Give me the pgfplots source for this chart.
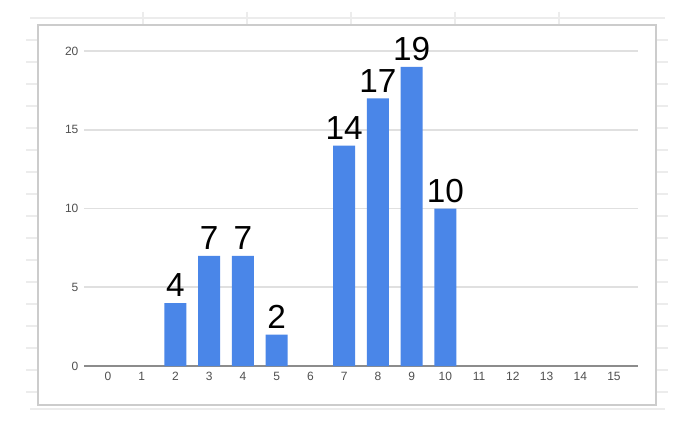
\documentclass[border=0pt]{standalone}
\usepackage{pgfplots}
\pgfplotsset{compat=1.18}
\usepackage{fontspec}
\setmainfont{Liberation Sans}
\definecolor{barblue}{RGB}{74,134,232}
\definecolor{gridgray}{RGB}{224,224,224}
\definecolor{ticktext}{RGB}{80,80,80}
\definecolor{sheetline}{RGB}{236,236,236}

\begin{document}
\begin{tikzpicture}
% page in pixel units (0.75pt per pixel), y measured from the top
\begin{scope}[x=0.75pt,y=-0.75pt,yshift=333pt]
\fill[white] (0,0) rectangle (684,444);
\useasboundingbox (0,0) rectangle (684,444);
% faint spreadsheet grid behind the card
\draw[sheetline,line width=0.8pt] (30,18) -- (665,18);
\foreach \gx in {143,247,351,455,559} \draw[sheetline,line width=0.8pt] (\gx,12) -- (\gx,24);
\foreach \gy in {40,62,84,106,128,150,172,194,216,238,260,282,304,326,348,370,392}
  {\draw[sheetline,line width=0.8pt] (26,\gy) -- (37,\gy);
   \draw[sheetline,line width=0.8pt] (657,\gy) -- (668,\gy);}
\draw[sheetline,line width=0.8pt] (30,409) -- (665,409);
% chart card
\draw[black!20,line width=1pt,fill=white] (38,25) rectangle (656,405);
\end{scope}

\begin{axis}[
  at={(63.3pt,58.5pt)}, anchor=south west,
  scale only axis,
  width=414.9pt, height=236.25pt,
  xmin=-0.7, xmax=15.7,
  ymin=0, ymax=20,
  /pgf/number format/assume math mode=true,
  axis x line=bottom, axis y line=left,
  y axis line style={draw=none},
  x axis line style={draw=black!45,line width=1.5pt,-},
  xtick={0,...,15}, ytick={0,5,10,15,20},
  major tick length=0pt,
  ymajorgrids=true,
  grid style={gridgray,line width=1.2pt},
  tick label style={font=\fontsize{9}{10}\selectfont,text=ticktext},
  xticklabel style={yshift=-1pt},
  yticklabel style={xshift=-1pt},
  clip=false,
  ybar, bar width=16.5pt,
  nodes near coords,
  every node near coord/.append style={font=\fontsize{25}{25}\selectfont,text=black,yshift=1pt},
]
\addplot[fill=barblue,draw=none] coordinates {
  (2,4) (3,7) (4,7) (5,2) (7,14) (8,17) (9,19) (10,10)
};
\end{axis}
\end{tikzpicture}
\end{document}
